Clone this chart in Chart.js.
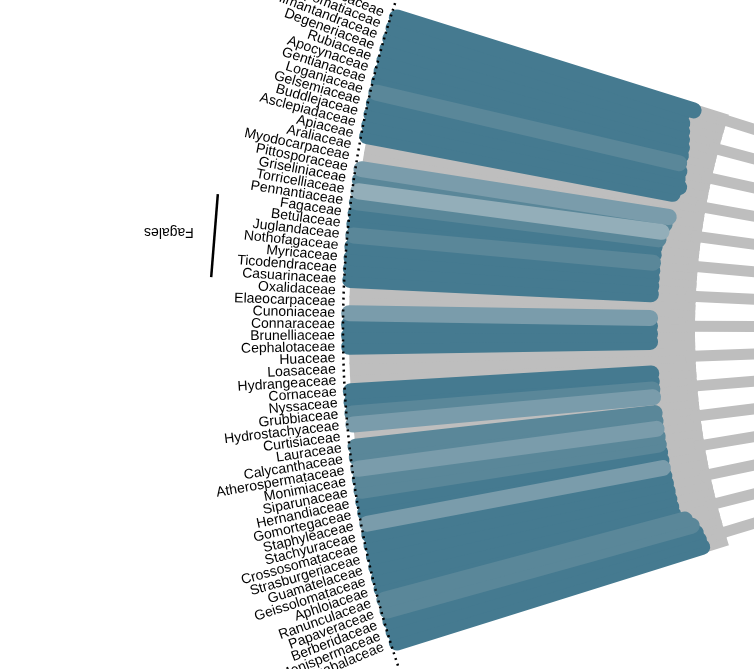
<!DOCTYPE html>
<html><head><meta charset="utf-8">
<script src="https://cdn.jsdelivr.net/npm/chart.js@4"></script>
<style>html,body{margin:0;padding:0;background:#fff}#w{width:754px;height:669px}</style>
</head><body><div id="w"><canvas id="c"></canvas></div>
<script>
const families=["Myristicaceae","Eupomatiaceae","Himantandraceae","Degeneriaceae","Rubiaceae","Apocynaceae","Gentianaceae","Loganiaceae","Gelsemiaceae","Buddlejaceae","Asclepiadaceae","Apiaceae","Araliaceae","Myodocarpaceae","Pittosporaceae","Griseliniaceae","Torricelliaceae","Pennantiaceae","Fagaceae","Betulaceae","Juglandaceae","Nothofagaceae","Myricaceae","Ticodendraceae","Casuarinaceae","Oxalidaceae","Elaeocarpaceae","Cunoniaceae","Connaraceae","Brunelliaceae","Cephalotaceae","Huaceae","Loasaceae","Hydrangeaceae","Cornaceae","Nyssaceae","Grubbiaceae","Hydrostachyaceae","Curtisiaceae","Lauraceae","Calycanthaceae","Atherospermataceae","Monimiaceae","Siparunaceae","Hernandiaceae","Gomortegaceae","Staphyleaceae","Stachyuraceae","Crossosomataceae","Strasburgeriaceae","Guamatelaceae","Geissolomataceae","Aphloiaceae","Ranunculaceae","Papaveraceae","Berberidaceae","Menispermaceae","Lardizabalaceae"];
// blue bar end (distance from centre, px units); null = no blue bar
const blueEnd=[735,745,742,740,738,736,735,735,733,733,730,735,null,null,735,738,740,742,745,745,745,745,745,745,745,null,null,745,745,745,745,null,null,null,745,745,745,745,null,745,745,745,745,745,745,745,745,745,745,745,745,745,745,735,730,728,727,726];
// blue shade level 0 dark .. 3 light
const shade=[0,0,0,0,0,0,0,1,0,0,0,0,0,0,2,1,3,1,0,0,1,0,0,0,0,0,0,2,0,0,0,3,3,2,0,0,1,2,0,1,1,2,1,1,0,0,2,0,0,0,0,0,0,1,1,0,0,0];
// long grey bars (outer context bars)
const longGrey=[1,0,0,0,1,0,0,0,1,0,0,0,1,0,0,0,1,0,0,0,1,0,0,0,1,0,0,0,1,0,0,0,1,0,0,0,1,0,0,0,1,0,0,0,1,0,0,0,1,0,0,0,1,0,0,0,1,0];
const orderName="Fagales", orderFrom=18, orderTo=24;

const CX=1395, CY=330, R0=1046, RDOT=1052, RLAB=1060, STEP=0.61*Math.PI/180;
const ang=i=>Math.PI-(i-(families.length-1)/2)*STEP;
const pt=(r,i)=>({x:CX+r*Math.cos(ang(i)),y:CY+r*Math.sin(ang(i))});
const blues=["#457a90","#5a8799","#7a9cab","#93aeb9"];
const ds=[];
families.forEach((f,i)=>{
  ds.push({data:[pt(R0,i),pt(700,i)],borderColor:"#bebebe",borderWidth:13,borderCapStyle:"butt",order:4});
});
families.forEach((f,i)=>{
  if(longGrey[i]) ds.push({data:[pt(710,i),pt(300,i)],borderColor:"#bebebe",borderWidth:11,borderCapStyle:"butt",order:3});
});
families.forEach((f,i)=>{
  if(blueEnd[i]!=null) ds.push({data:[pt(R0,i),pt(blueEnd[i],i)],borderColor:blues[shade[i]],borderWidth:16,borderCapStyle:"round",order:2-shade[i]*0.1});
});
const arcPts=[];for(let k=-6;k<families.length+6;k+=0.25)arcPts.push(pt(RDOT,k));
ds.push({data:arcPts,borderColor:"#000",borderWidth:2.5,borderDash:[2,4],borderCapStyle:"butt",order:0});

const labels={id:"labels",afterDatasetsDraw(ch){
  const c=ch.ctx,xs=ch.scales.x,ys=ch.scales.y;
  c.save();c.font="14px 'Liberation Sans', Arial";c.fillStyle="#000";c.textAlign="right";c.textBaseline="middle";
  families.forEach((f,i)=>{const p=pt(RLAB,i);c.save();c.translate(xs.getPixelForValue(p.x),ys.getPixelForValue(p.y));
    c.rotate(1.3*Math.atan2(CY-p.y,CX-p.x));c.fillText(f,0,0);c.restore();});
  const a=pt(1185,orderFrom-0.3),b=pt(1185,orderTo+0.3);
  c.strokeStyle="#000";c.lineWidth=2.5;c.beginPath();
  c.moveTo(xs.getPixelForValue(a.x),ys.getPixelForValue(a.y));c.lineTo(xs.getPixelForValue(b.x),ys.getPixelForValue(b.y));c.stroke();
  const m=pt(1230,(orderFrom+orderTo)/2);c.save();c.translate(xs.getPixelForValue(m.x),ys.getPixelForValue(m.y));c.rotate(Math.PI);
  c.textAlign="center";c.fillText(orderName,0,0);c.restore();
  c.restore();}};

new Chart(document.getElementById("c"),{type:"scatter",data:{datasets:ds.map(d=>Object.assign({showLine:true,pointRadius:0,fill:false,tension:0},d))},
 options:{responsive:true,maintainAspectRatio:false,animation:false,layout:{padding:0},
  plugins:{legend:{display:false},tooltip:{enabled:false}},
  scales:{x:{type:"linear",min:0,max:754,display:false},y:{type:"linear",min:0,max:669,reverse:true,display:false}}},
 plugins:[labels]});
</script></body></html>
